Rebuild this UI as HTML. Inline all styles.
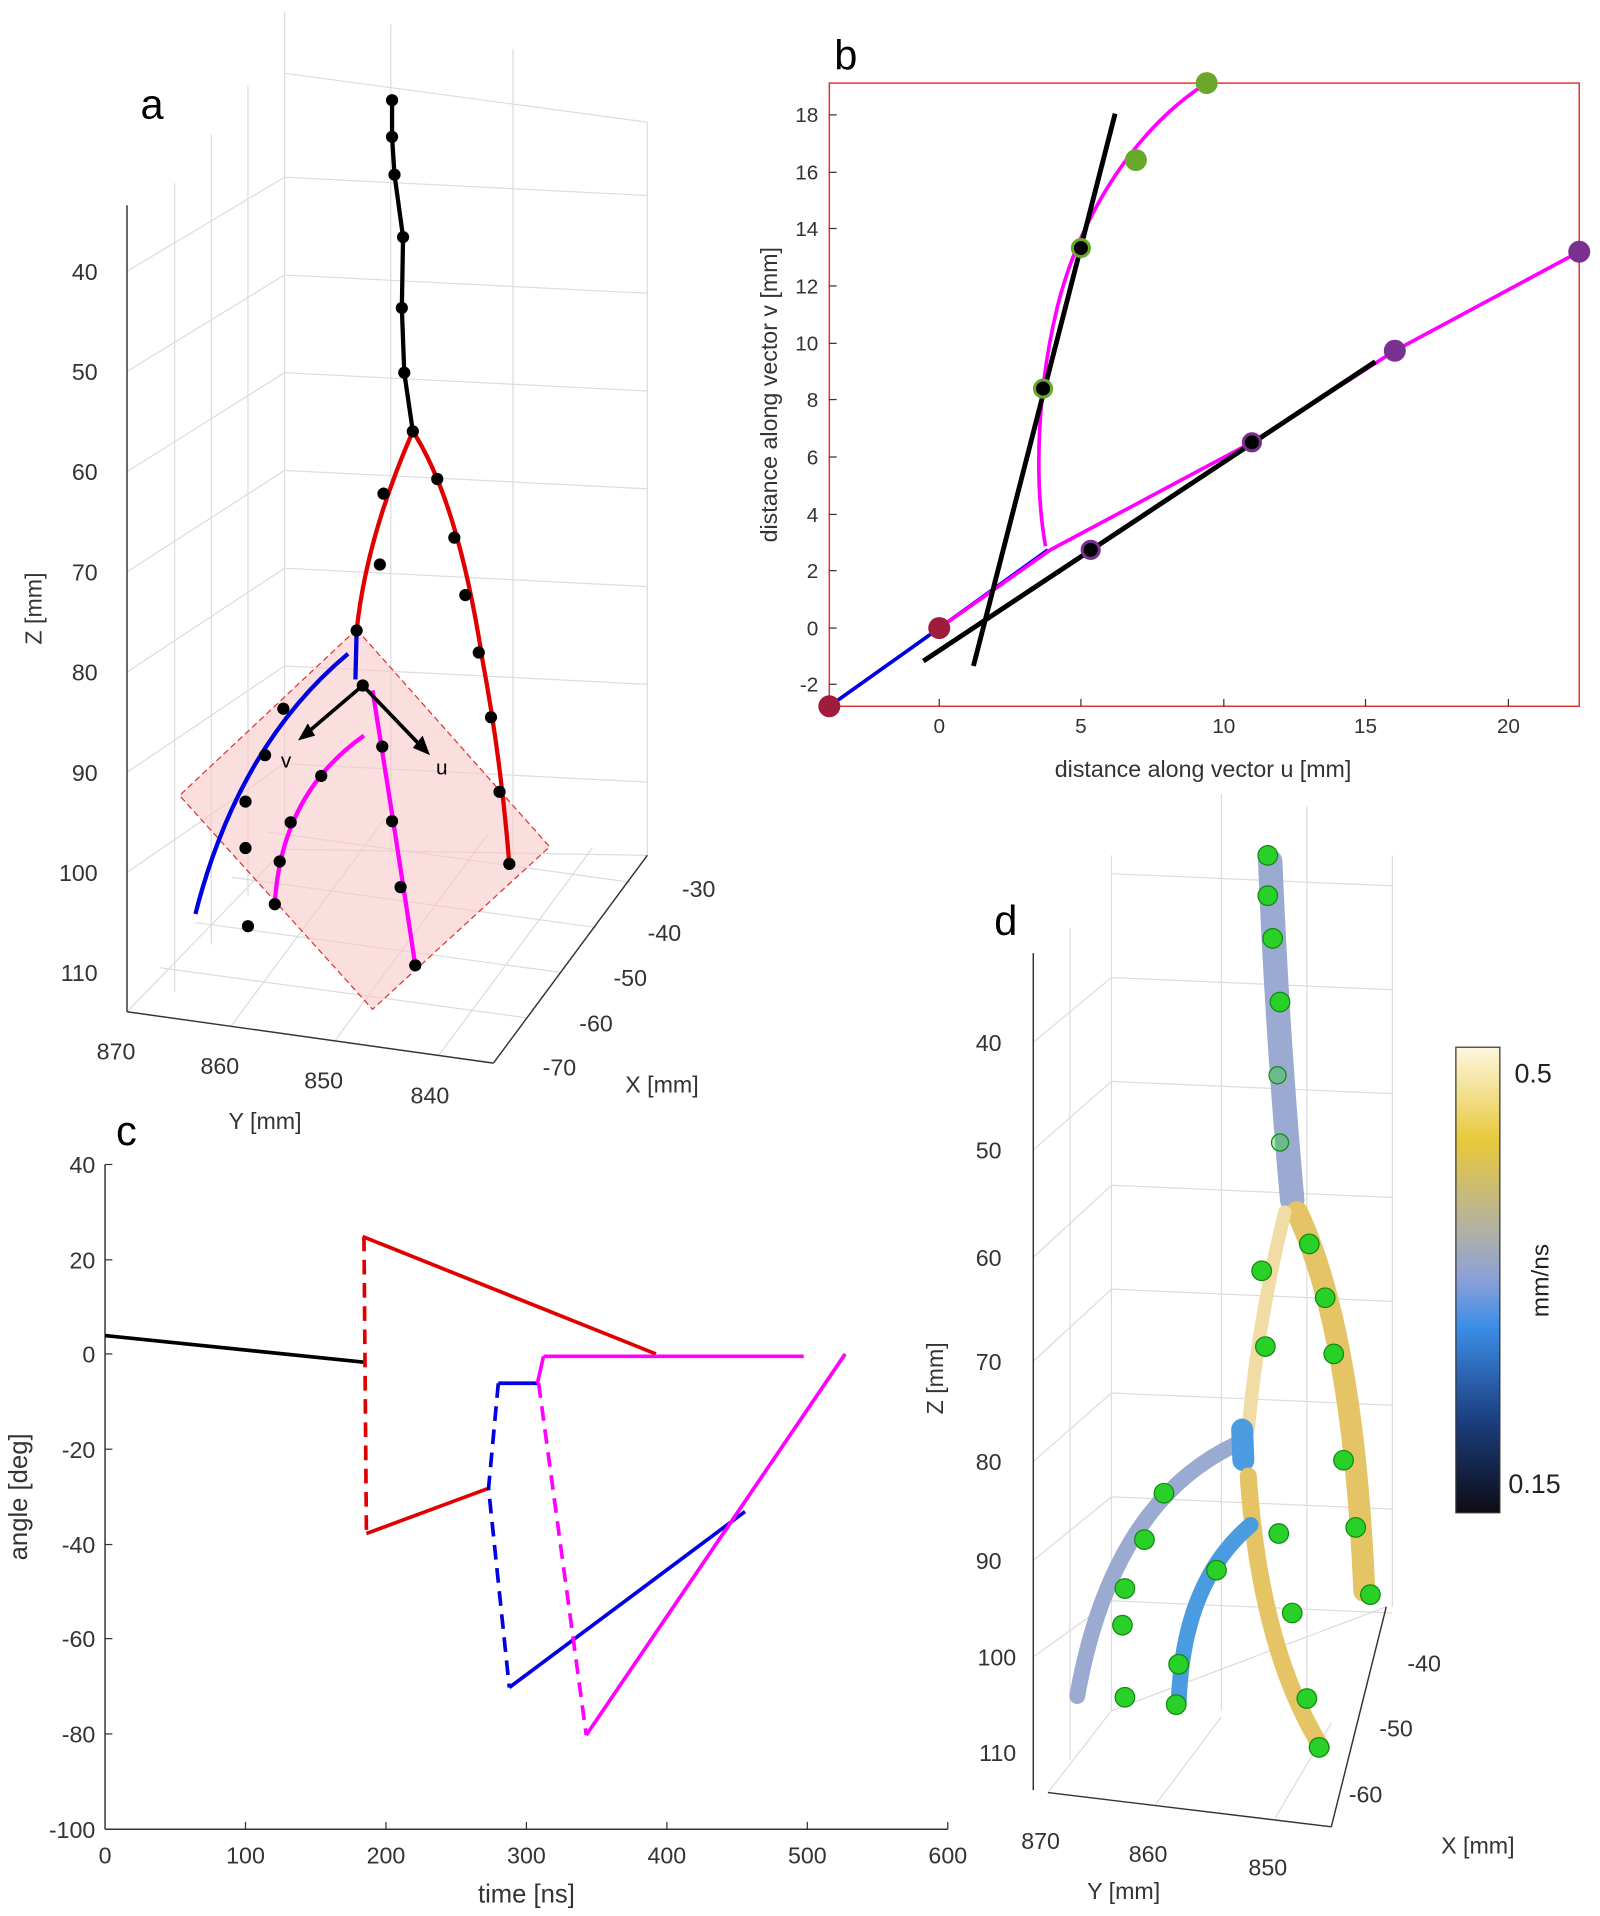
<!DOCTYPE html>
<html><head><meta charset="utf-8"><style>html,body{margin:0;padding:0;background:#fff}svg{display:block}</style></head>
<body>
<svg width="1600" height="1916" viewBox="0 0 1310 1568" preserveAspectRatio="none" xmlns="http://www.w3.org/2000/svg" font-family="Liberation Sans, DejaVu Sans, sans-serif">
<defs>
<linearGradient id="cb" x1="0" y1="0" x2="0" y2="1">
<stop offset="0" stop-color="#fdf6e0"/><stop offset="0.2" stop-color="#e8c93a"/><stop offset="0.4" stop-color="#b0b0a8"/><stop offset="0.5" stop-color="#8aa0d8"/><stop offset="0.6" stop-color="#3c8ee8"/><stop offset="0.8" stop-color="#1c3f80"/><stop offset="1" stop-color="#0c0c14"/>
</linearGradient>
</defs>
<!-- Panel a grid -->
<g stroke="#dcdcdc" stroke-width="1" fill="none">
<line x1="143" y1="150" x2="143" y2="812"/><line x1="173" y1="110" x2="173" y2="773"/><line x1="203" y1="70" x2="203" y2="734"/><line x1="233" y1="10" x2="233" y2="695"/>
<line x1="233" y1="695" x2="530" y2="700"/><line x1="104" y1="828" x2="233" y2="695"/>
<line x1="104" y1="222" x2="233" y2="145"/><line x1="233" y1="145" x2="530" y2="160"/>
<line x1="104" y1="304" x2="233" y2="225"/><line x1="233" y1="225" x2="530" y2="240"/>
<line x1="104" y1="386" x2="233" y2="305"/><line x1="233" y1="305" x2="530" y2="320"/>
<line x1="104" y1="468" x2="233" y2="385"/><line x1="233" y1="385" x2="530" y2="400"/>
<line x1="104" y1="550" x2="233" y2="465"/><line x1="233" y1="465" x2="530" y2="480"/>
<line x1="104" y1="632" x2="233" y2="545"/><line x1="233" y1="545" x2="530" y2="560"/>
<line x1="104" y1="714" x2="233" y2="625"/><line x1="233" y1="625" x2="530" y2="640"/>
<line x1="233" y1="60" x2="530" y2="100"/>
<line x1="320" y1="20" x2="320" y2="700"/><line x1="420" y1="40" x2="420" y2="700"/><line x1="530" y1="100" x2="530" y2="700"/>
<line x1="189" y1="840" x2="315" y2="670"/><line x1="274" y1="852" x2="400" y2="682"/><line x1="359" y1="864" x2="485" y2="694"/>
<line x1="432" y1="833" x2="131" y2="792"/><line x1="460" y1="796" x2="160" y2="755"/><line x1="488" y1="759" x2="190" y2="718"/><line x1="516" y1="722" x2="220" y2="681"/>
</g>
<g stroke="#333" stroke-width="1.2" fill="none">
<line x1="104" y1="168" x2="104" y2="828"/>
<line x1="104" y1="828" x2="404" y2="870"/><line x1="404" y1="870" x2="530" y2="700"/>
</g>
<g font-size="19" fill="#333" text-anchor="end">
<text x="80" y="229">40</text><text x="80" y="311">50</text><text x="80" y="393">60</text><text x="80" y="475">70</text><text x="80" y="557">80</text><text x="80" y="639">90</text><text x="80" y="721">100</text><text x="80" y="803">110</text>
</g>
<g font-size="19" fill="#333" text-anchor="middle">
<text x="95" y="867">870</text><text x="180" y="879">860</text><text x="265" y="891">850</text><text x="352" y="903">840</text>
<text x="572" y="734">-30</text><text x="544" y="770">-40</text><text x="516" y="807">-50</text><text x="488" y="844">-60</text><text x="458" y="880">-70</text>
<text x="217" y="924">Y [mm]</text><text x="542" y="894">X [mm]</text>
<text transform="translate(34,498) rotate(-90)">Z [mm]</text>
</g>
<text x="115" y="97" font-size="34">a</text>
<polygon points="292,515 450,693 305,826 147,651" fill="#f8c8c8" fill-opacity="0.6" stroke="#e03030" stroke-width="1" stroke-dasharray="5,3"/>
<g fill="none" stroke-width="3.5" stroke-linejoin="round">
<polyline stroke="#000" points="321,82 321,112 323,143 330,194 329,252 331,305 338,353"/>
<path stroke="#e00000" d="M338,353 Q300,440 292,516"/>
<path stroke="#e00000" d="M338,353 Q375,410 395,540 Q410,620 417,707"/>
<polyline stroke="#0000e0" points="292,516 291,556"/>
<path stroke="#0000e0" d="M285,535 Q195,610 160,748"/>
<path stroke="#ff00ff" d="M298,602 Q230,650 225,740"/>
<path stroke="#ff00ff" d="M305,565 Q325,690 340,790"/>
</g>
<g fill="#000">
<circle cx="321" cy="82" r="5"/><circle cx="321" cy="112" r="5"/><circle cx="323" cy="143" r="5"/><circle cx="330" cy="194" r="5"/><circle cx="329" cy="252" r="5"/><circle cx="331" cy="305" r="5"/><circle cx="338" cy="353" r="5"/>
<circle cx="314" cy="404" r="5"/><circle cx="311" cy="462" r="5"/><circle cx="292" cy="516" r="5"/>
<circle cx="358" cy="392" r="5"/><circle cx="372" cy="440" r="5"/><circle cx="381" cy="487" r="5"/><circle cx="392" cy="534" r="5"/><circle cx="402" cy="587" r="5"/><circle cx="409" cy="648" r="5"/><circle cx="417" cy="707" r="5"/>
<circle cx="232" cy="580" r="5"/><circle cx="217" cy="618" r="5"/><circle cx="201" cy="656" r="5"/><circle cx="201" cy="694" r="5"/><circle cx="203" cy="758" r="5"/>
<circle cx="313" cy="611" r="5"/><circle cx="321" cy="672" r="5"/><circle cx="328" cy="726" r="5"/><circle cx="340" cy="790" r="5"/>
<circle cx="263" cy="635" r="5"/><circle cx="238" cy="673" r="5"/><circle cx="229" cy="705" r="5"/><circle cx="225" cy="740" r="5"/><circle cx="297" cy="561" r="5"/>
</g>
<g stroke="#000" stroke-width="3"><line x1="297" y1="561" x2="250" y2="601"/><line x1="297" y1="561" x2="346" y2="612"/></g>
<polygon points="244,606 252,592 258,602" fill="#000"/><polygon points="352,618 338,612 346,602" fill="#000"/>
<text x="230" y="628" font-size="17">v</text><text x="357" y="634" font-size="17">u</text>

<!-- Panel b -->
<text x="683" y="57" font-size="34">b</text>
<rect x="679" y="68" width="614" height="510" fill="none" stroke="#e03030" stroke-width="1.2"/>
<g stroke="#333" stroke-width="1">
<line x1="679" y1="94" x2="685" y2="94"/><line x1="679" y1="141" x2="685" y2="141"/><line x1="679" y1="187" x2="685" y2="187"/><line x1="679" y1="234" x2="685" y2="234"/><line x1="679" y1="281" x2="685" y2="281"/><line x1="679" y1="327" x2="685" y2="327"/><line x1="679" y1="374" x2="685" y2="374"/><line x1="679" y1="421" x2="685" y2="421"/><line x1="679" y1="467" x2="685" y2="467"/><line x1="679" y1="514" x2="685" y2="514"/><line x1="679" y1="560" x2="685" y2="560"/>
<line x1="769" y1="578" x2="769" y2="572"/><line x1="885" y1="578" x2="885" y2="572"/><line x1="1002" y1="578" x2="1002" y2="572"/><line x1="1118" y1="578" x2="1118" y2="572"/><line x1="1235" y1="578" x2="1235" y2="572"/>
</g>
<g font-size="17" fill="#333" text-anchor="end">
<text x="670" y="100">18</text><text x="670" y="147">16</text><text x="670" y="193">14</text><text x="670" y="240">12</text><text x="670" y="287">10</text><text x="670" y="333">8</text><text x="670" y="380">6</text><text x="670" y="427">4</text><text x="670" y="473">2</text><text x="670" y="520">0</text><text x="670" y="566">-2</text>
</g>
<g font-size="17" fill="#333" text-anchor="middle">
<text x="769" y="600">0</text><text x="885" y="600">5</text><text x="1002" y="600">10</text><text x="1118" y="600">15</text><text x="1235" y="600">20</text>
<text x="985" y="636" font-size="19">distance along vector u [mm]</text>
<text transform="translate(636,323) rotate(-90)" font-size="19">distance along vector v [mm]</text>
</g>
<g fill="none" stroke-width="3">
<path stroke="#ff00ff" d="M988,68 C930,105 885,175 866,250 C850,315 846,390 856,447"/>
<polyline stroke="#0000e0" points="679,578 769,514 858,450"/>
<polyline stroke="#ff00ff" points="769,514 860,450 1025,362 1142,287 1293,206"/>
<line stroke="#000" stroke-width="4" x1="797" y1="545" x2="913" y2="93"/>
<line stroke="#000" stroke-width="4" x1="756" y1="541" x2="1126" y2="296"/>
</g>
<circle cx="679" cy="578" r="9" fill="#a01c3c"/><circle cx="769" cy="514" r="9" fill="#a01c3c"/>
<circle cx="988" cy="68" r="9" fill="#6aa82c"/><circle cx="930" cy="131" r="9" fill="#6aa82c"/>
<circle cx="885" cy="203" r="7" fill="#000" stroke="#6aa82c" stroke-width="2.5"/><circle cx="854" cy="318" r="7" fill="#000" stroke="#6aa82c" stroke-width="2.5"/>
<circle cx="893" cy="450" r="7" fill="#000" stroke="#7a3090" stroke-width="2.5"/><circle cx="1025" cy="362" r="7" fill="#000" stroke="#7a3090" stroke-width="2.5"/>
<circle cx="1142" cy="287" r="9" fill="#7a3090"/><circle cx="1293" cy="206" r="9" fill="#7a3090"/>

<!-- Panel c -->
<text x="95" y="937" font-size="34">c</text>
<g stroke="#333" stroke-width="1.2"><line x1="86" y1="953" x2="86" y2="1497"/><line x1="86" y1="1497" x2="776" y2="1497"/></g>
<g stroke="#333" stroke-width="1">
<line x1="86" y1="953" x2="92" y2="953"/><line x1="86" y1="1031" x2="92" y2="1031"/><line x1="86" y1="1108" x2="92" y2="1108"/><line x1="86" y1="1186" x2="92" y2="1186"/><line x1="86" y1="1264" x2="92" y2="1264"/><line x1="86" y1="1341" x2="92" y2="1341"/><line x1="86" y1="1419" x2="92" y2="1419"/>
<line x1="201" y1="1497" x2="201" y2="1491"/><line x1="316" y1="1497" x2="316" y2="1491"/><line x1="431" y1="1497" x2="431" y2="1491"/><line x1="546" y1="1497" x2="546" y2="1491"/><line x1="661" y1="1497" x2="661" y2="1491"/><line x1="776" y1="1497" x2="776" y2="1491"/>
</g>
<g font-size="19" fill="#333" text-anchor="end">
<text x="78" y="960">40</text><text x="78" y="1038">20</text><text x="78" y="1115">0</text><text x="78" y="1193">-20</text><text x="78" y="1271">-40</text><text x="78" y="1348">-60</text><text x="78" y="1426">-80</text><text x="78" y="1504">-100</text>
</g>
<g font-size="19" fill="#333" text-anchor="middle">
<text x="86" y="1525">0</text><text x="201" y="1525">100</text><text x="316" y="1525">200</text><text x="431" y="1525">300</text><text x="546" y="1525">400</text><text x="661" y="1525">500</text><text x="776" y="1525">600</text>
<text x="431" y="1557" font-size="21">time [ns]</text>
<text transform="translate(22,1225) rotate(-90)" font-size="21">angle [deg]</text>
</g>
<g fill="none" stroke-width="3">
<line stroke="#000" x1="86" y1="1093" x2="300" y2="1115"/>
<line stroke="#e00000" x1="297" y1="1012" x2="537" y2="1108"/>
<line stroke="#e00000" stroke-dasharray="12,7" x1="298" y1="1012" x2="300" y2="1255"/>
<line stroke="#e00000" x1="300" y1="1255" x2="400" y2="1218"/>
<polyline stroke="#0000e0" stroke-dasharray="12,7" points="408,1132 400,1218 417,1381"/>
<line stroke="#0000e0" x1="408" y1="1132" x2="440" y2="1132"/>
<line stroke="#0000e0" x1="417" y1="1381" x2="610" y2="1237"/>
<line stroke="#ff00ff" x1="445" y1="1110" x2="658" y2="1110"/>
<line stroke="#ff00ff" x1="440" y1="1132" x2="445" y2="1110"/>
<line stroke="#ff00ff" stroke-dasharray="12,7" x1="441" y1="1132" x2="480" y2="1420"/>
<line stroke="#ff00ff" x1="480" y1="1420" x2="692" y2="1108"/>
</g>

<!-- Panel d -->
<text x="814" y="765" font-size="34">d</text>
<g stroke="#dcdcdc" stroke-width="1" fill="none">
<line x1="876" y1="760" x2="876" y2="1440"/><line x1="910" y1="700" x2="910" y2="1400"/>
<line x1="846" y1="853" x2="910" y2="800"/><line x1="910" y1="800" x2="1140" y2="810"/>
<line x1="846" y1="941" x2="910" y2="885"/><line x1="910" y1="885" x2="1140" y2="895"/>
<line x1="846" y1="1029" x2="910" y2="970"/><line x1="910" y1="970" x2="1140" y2="980"/>
<line x1="846" y1="1114" x2="910" y2="1055"/><line x1="910" y1="1055" x2="1140" y2="1065"/>
<line x1="846" y1="1196" x2="910" y2="1140"/><line x1="910" y1="1140" x2="1140" y2="1150"/>
<line x1="846" y1="1277" x2="910" y2="1225"/><line x1="910" y1="1225" x2="1140" y2="1235"/>
<line x1="846" y1="1356" x2="910" y2="1310"/><line x1="910" y1="1310" x2="1140" y2="1320"/>
<line x1="910" y1="715" x2="1140" y2="725"/>
<line x1="1000" y1="650" x2="1000" y2="1400"/><line x1="1070" y1="660" x2="1070" y2="1400"/><line x1="1140" y1="700" x2="1140" y2="1315"/>
<line x1="858" y1="1467" x2="910" y2="1400"/><line x1="910" y1="1400" x2="1135" y2="1315"/>
<line x1="946" y1="1477" x2="1000" y2="1405"/><line x1="1044" y1="1488" x2="1090" y2="1410"/>
</g>
<g stroke="#333" stroke-width="1.2" fill="none">
<line x1="846" y1="780" x2="846" y2="1465"/><line x1="858" y1="1467" x2="1090" y2="1495"/><line x1="1090" y1="1495" x2="1135" y2="1315"/>
</g>
<g font-size="19" fill="#333" text-anchor="end">
<text x="820" y="860">40</text><text x="820" y="948">50</text><text x="820" y="1036">60</text><text x="820" y="1121">70</text><text x="820" y="1203">80</text><text x="820" y="1284">90</text><text x="832" y="1363">100</text><text x="832" y="1441">110</text>
</g>
<g font-size="19" fill="#333" text-anchor="middle">
<text x="852" y="1513">870</text><text x="940" y="1524">860</text><text x="1038" y="1535">850</text>
<text x="1166" y="1368">-40</text><text x="1143" y="1421">-50</text><text x="1118" y="1475">-60</text>
<text x="1210" y="1517">X [mm]</text><text x="920" y="1554">Y [mm]</text>
<text transform="translate(772,1128) rotate(-90)">Z [mm]</text>
</g>
<rect x="1192" y="857" width="36" height="381" fill="url(#cb)" stroke="#333" stroke-width="1"/>
<text x="1240" y="886" font-size="22" fill="#222">0.5</text><text x="1235" y="1222" font-size="22" fill="#222">0.15</text>
<text transform="translate(1268,1048) rotate(-90)" font-size="20" fill="#222" text-anchor="middle">mm/ns</text>
<g fill="none" stroke-linecap="round" stroke-linejoin="round">
<path stroke="#9aaad0" stroke-width="20" d="M1040,705 Q1046,850 1058,982"/>
<path stroke="#e4c464" stroke-width="18" d="M1062,992 Q1108,1090 1117,1302"/>
<path stroke="#f0dca4" stroke-width="11" d="M1052,992 Q1030,1080 1022,1170"/>
<path stroke="#9aaad0" stroke-width="13" d="M1012,1182 Q910,1230 882,1388"/>
<polyline stroke="#4a9be0" stroke-width="18" points="1017,1170 1018,1195"/>
<path stroke="#e4c464" stroke-width="14" d="M1022,1208 Q1032,1350 1082,1430"/>
<path stroke="#4a9be0" stroke-width="13" d="M1024,1248 Q968,1295 965,1395"/>
</g>
<g fill="#28d028" stroke="#118811" stroke-width="1">
<circle cx="1038" cy="700" r="8"/><circle cx="1038" cy="733" r="8"/><circle cx="1042" cy="768" r="8"/><circle cx="1048" cy="820" r="8"/><circle cx="1046" cy="880" r="7" fill-opacity="0.4"/><circle cx="1048" cy="935" r="7" fill-opacity="0.4"/>
<circle cx="1072" cy="1018" r="8"/><circle cx="1033" cy="1040" r="8"/><circle cx="1085" cy="1062" r="8"/><circle cx="1036" cy="1102" r="8"/><circle cx="1092" cy="1108" r="8"/><circle cx="1100" cy="1195" r="8"/><circle cx="1110" cy="1250" r="8"/><circle cx="1122" cy="1305" r="8"/>
<circle cx="1047" cy="1255" r="8"/><circle cx="1058" cy="1320" r="8"/><circle cx="1070" cy="1390" r="8"/><circle cx="1080" cy="1430" r="8"/>
<circle cx="953" cy="1222" r="8"/><circle cx="937" cy="1260" r="8"/><circle cx="921" cy="1300" r="8"/><circle cx="919" cy="1330" r="8"/><circle cx="921" cy="1389" r="8"/>
<circle cx="996" cy="1285" r="8"/><circle cx="965" cy="1362" r="8"/><circle cx="963" cy="1395" r="8"/>
</g>
</svg>
</body></html>
